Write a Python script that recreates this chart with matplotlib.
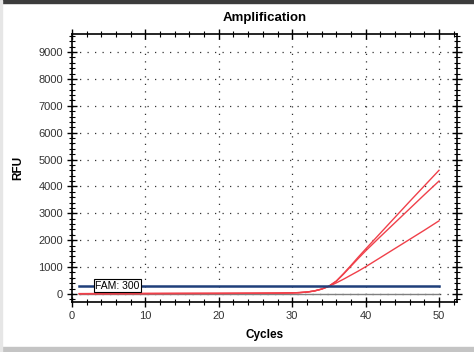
import matplotlib
matplotlib.use("Agg")
import matplotlib.pyplot as plt
from matplotlib.ticker import MultipleLocator
from matplotlib.patches import Rectangle

plt.rcParams['font.family'] = ['Liberation Sans', 'DejaVu Sans']

cycles = [1, 5, 10, 15, 20, 25, 28, 30, 31, 32, 33, 34, 35, 36, 37, 38, 39, 40, 42, 44, 46, 48, 50]
well_a = [10, 12, 15, 18, 20, 25, 30, 40, 50, 70, 110, 180, 290, 480, 760, 1060, 1370, 1670, 2260, 2850, 3440, 4020, 4600]
well_b = [10, 12, 15, 18, 20, 25, 30, 40, 50, 70, 110, 180, 290, 470, 740, 1030, 1320, 1600, 2130, 2650, 3170, 3690, 4200]
well_c = [10, 12, 15, 18, 20, 25, 30, 40, 50, 70, 110, 180, 280, 410, 550, 700, 850, 1010, 1350, 1690, 2030, 2370, 2720]
neg_cycles = [1, 50]
neg_well = [-15, -15]
threshold = 300
threshold_label = "FAM: 300"

fig = plt.figure(figsize=(4.74, 3.52), dpi=100)
fig.patch.set_facecolor('white')
# window frame strips
fig.patches.append(Rectangle((0, 1 - 3 / 352), 1, 3 / 352, transform=fig.transFigure, color='#3c3c3c', zorder=0))
fig.patches.append(Rectangle((0, 0), 1, 5 / 352, transform=fig.transFigure, color='#c4c4c4', zorder=0))
fig.patches.append(Rectangle((0, 0), 2 / 474, 1, transform=fig.transFigure, color='#e6e6e6', zorder=0))

ax = fig.add_axes([72 / 474, 1 - 302 / 352, (457 - 72) / 474, (302 - 34) / 352])

ax.plot(neg_cycles, neg_well, color='#808080', lw=1.0)
for w in (well_a, well_b, well_c):
    ax.plot(cycles, w, color='#f0404a', lw=1.0)
ax.plot([1, 50], [threshold, threshold], color='#1f3f7a', lw=1.8)
ax.text(6.2, threshold, threshold_label, fontsize=7.5, ha='center', va='center',
        bbox=dict(boxstyle='square,pad=0.15', fc='white', ec='black', lw=0.8))

ax.set_xlim(0, 52.45)
ax.set_ylim(-300, 9670)
ax.xaxis.set_major_locator(MultipleLocator(10))
ax.xaxis.set_minor_locator(MultipleLocator(2))
ax.yaxis.set_major_locator(MultipleLocator(1000))
ax.yaxis.set_minor_locator(MultipleLocator(200))
ax.tick_params(which='major', direction='inout', length=7, width=1, top=True, right=True,
               labelsize=8, labelcolor='#333333', pad=3)
ax.tick_params(which='minor', direction='inout', length=4, width=0.8, top=True, right=True)
ax.grid(True, which='major', color='#333333', linestyle=(0, (1, 5)), lw=0.9)
for s in ax.spines.values():
    s.set_linewidth(1.2)

ax.set_title('Amplification', fontsize=9.5, fontweight='bold', pad=9)
ax.set_xlabel('Cycles', fontsize=8.5, fontweight='bold', labelpad=6)
ax.set_ylabel('RFU', fontsize=8.5, fontweight='bold', labelpad=10)

fig.savefig('out.png', dpi=100)
